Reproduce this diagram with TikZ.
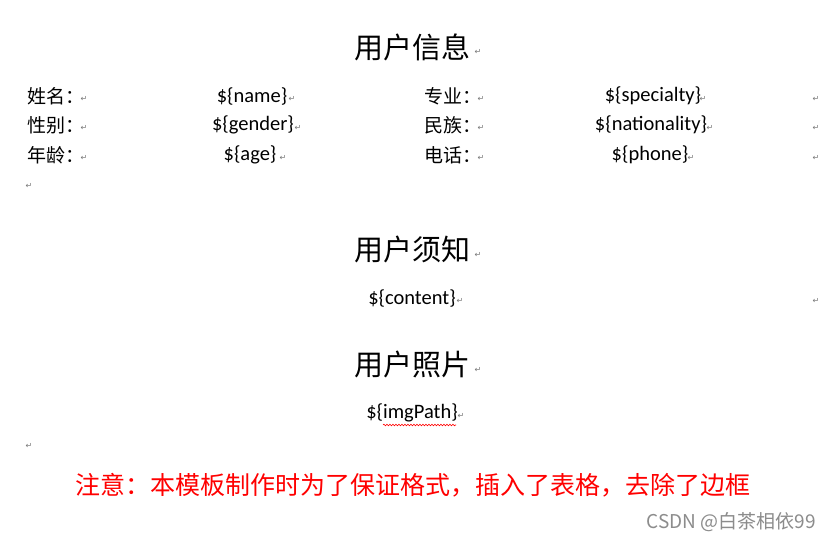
\documentclass[tikz,border=0pt]{standalone}
\usepackage{fontspec}
\setmainfont{Carlito}
\newfontfamily\cjk{Noto Sans CJK SC}
\newfontfamily\sym{DejaVu Sans}
\usetikzlibrary{decorations.pathmorphing}
\definecolor{notered}{RGB}{255,0,0}
\definecolor{markgrey}{RGB}{120,120,120}
\tikzset{
  title/.style={font=\cjk\fontsize{29}{31}\selectfont, inner sep=0pt},
  lab/.style={font=\cjk\fontsize{19}{21}\selectfont, inner sep=0pt, anchor=west},
  val/.style={font=\fontsize{20.5}{22}\selectfont, inner sep=0pt},
  retmark/.style={font=\sym\fontsize{8}{9}\selectfont, text=markgrey, inner sep=0pt},
}
\begin{document}
\begin{tikzpicture}[x=1pt,y=-1pt]
\useasboundingbox[fill=white] (0,0) rectangle (831,541);
\node[title] (t1) at (412,47) {用户信息};
\node[retmark] (r0) at (478,52) {↵};
% rows
\node[lab] (l1) at (27,96) {姓名：};
\node[lab] (l2) at (27,125) {性别：};
\node[lab] (l3) at (27,155) {年龄：};
\node[val] (v1) at (252,96) {\$\{name\}};
\node[val] (v2) at (253,125) {\$\{gender\}};
\node[val] (v3) at (250,155) {\$\{age\}};
\node[lab] (m1) at (424,96) {专业：};
\node[lab] (m2) at (424,125) {民族：};
\node[lab] (m3) at (424,155) {电话：};
\node[val] (w1) at (653,96) {\$\{specialty\}};
\node[val] (w2) at (651,125) {\$\{nationality\}};
\node[val] (w3) at (650,155) {\$\{phone\}};
\foreach \y/\a/\b/\c/\d in {96/84/292/481/703, 125/84/298/481/710, 155/84/283/481/691}{
  \node[retmark] at (\a,\y+3) {↵};
  \node[retmark] at (\b,\y+3) {↵};
  \node[retmark] at (\c,\y+3) {↵};
  \node[retmark] at (\d,\y+3) {↵};
  \node[retmark] at (816,\y+3) {↵};
}
\node[retmark] (e1) at (29,186) {↵};
\node[title] (t2) at (412,249) {用户须知};
\node[retmark] at (478,255) {↵};
\node[val] (c1) at (412,298) {\$\{content\}};
\node[retmark] at (460,301) {↵};
\node[retmark] at (816,301) {↵};
\node[title] (t3) at (412,364) {用户照片};
\node[retmark] at (478,370) {↵};
\node[val] (c2) at (412,413) {\$\{imgPath\}};
\node[retmark] at (461,416) {↵};
\draw[notered, line width=0.6pt, decorate, decoration={snake, amplitude=0.8pt, segment length=3pt}] (383,425) -- (456,425);
\node[retmark] (e2) at (29,446) {↵};
\node[font=\cjk\fontsize{25}{27}\selectfont, text=notered, inner sep=0pt] (note) at (413,485) {注意：本模板制作时为了保证格式，插入了表格，去除了边框};
\node[font=\cjk\fontsize{19}{21}\selectfont, text=black!45, inner sep=0pt, anchor=east] (wm) at (816,522) {CSDN @白茶相依99};
\end{tikzpicture}
\end{document}
